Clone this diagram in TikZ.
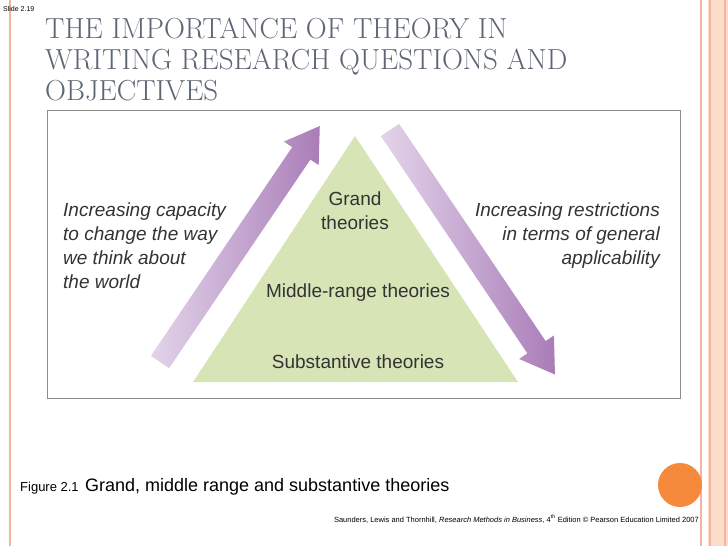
\documentclass[tikz,border=0pt]{standalone}
\usepackage{fontspec}
\setsansfont{Liberation Sans}
\usetikzlibrary{positioning}
\definecolor{titlegray}{HTML}{5E6674}
\definecolor{salmon}{HTML}{F4B49C}
\definecolor{peach}{HTML}{FCDCCB}
\definecolor{trigreen}{HTML}{D6E4B6}
\definecolor{purpdark}{HTML}{A97DB8}
\definecolor{purplight}{HTML}{E3D4EA}
\definecolor{orangedot}{HTML}{F58A3D}
\tikzset{
  lbl/.style={font=\sffamily\fontsize{19}{24}\selectfont, text=black!80, inner sep=0pt},
  sidelbl/.style={font=\sffamily\itshape\fontsize{19}{24}\selectfont, text=black!80, inner sep=0pt},
}
\begin{document}
\begin{tikzpicture}[x=1pt,y=-1pt]
  \useasboundingbox (0,0) rectangle (728,546);
  % slide frame
  \draw[salmon, line width=2pt] (10,0) -- (10,546);
  \draw[salmon, line width=1.5pt] (701,0) -- (701,546);
  \fill[peach] (708,0) rectangle (728,546);
  \draw[salmon, line width=1.5pt] (710,0) -- (710,546) (725,0) -- (725,546);
  \node[anchor=west, font=\sffamily\fontsize{7}{8}\selectfont, inner sep=0pt] (slide) at (3,9) {Slide 2.19};
  \node[anchor=north west, align=left, text=titlegray, font=\fontsize{29}{31}\selectfont, inner sep=0pt] (title) at (45,18)
    {THE IMPORTANCE OF THEORY IN\\WRITING RESEARCH QUESTIONS AND\\OBJECTIVES};
  % figure box
  \draw[black!45, line width=1pt] (47,110) rectangle (680,398);
  \fill[trigreen] (355,136) -- (518,382) -- (193,382) -- cycle;
  % arrows
  \begin{scope}[shift={(160,362)}, rotate=55.9]
    \shade[left color=purplight, right color=purpdark]
      (0,-11) -- (252,-11) -- (252,-21) -- (285,0) -- (252,21) -- (252,11) -- (0,11) -- cycle;
  \end{scope}
  \begin{scope}[shift={(390,130)}, rotate=-56]
    \shade[left color=purplight, right color=purpdark]
      (0,-11) -- (262,-11) -- (262,-21) -- (295,0) -- (262,21) -- (262,11) -- (0,11) -- cycle;
  \end{scope}
  % labels
  \node[lbl, align=center] (grand) at (355,211) {Grand\\theories};
  \node[lbl] (middle) at (358,293) {Middle-range theories};
  \node[lbl] (subst) at (358,362) {Substantive theories};
  \node[sidelbl, anchor=north west, align=left] (left) at (63,203)
    {Increasing capacity\\to change the way\\we think about\\the world};
  \node[sidelbl, anchor=north east, align=right] (right) at (660,203)
    {Increasing restrictions\\in terms of general\\applicability};
  % caption
  \node[anchor=base west, inner sep=0pt, font=\sffamily\fontsize{13}{14}\selectfont] (fig) at (20,491) {Figure 2.1};
  \node[inner sep=0pt, font=\sffamily\fontsize{18}{20}\selectfont, right=6pt of fig.base east, anchor=base west] (cap)
    {Grand, middle range and substantive theories};
  \fill[orangedot] (680,485) circle (22);
  \node[anchor=base east, inner sep=0pt, font=\sffamily\fontsize{7.5}{8}\selectfont] (cite) at (699,522)
    {Saunders, Lewis and Thornhill, \textit{Research Methods in Business}, 4\textsuperscript{th} Edition \copyright{} Pearson Education Limited 2007};
\end{tikzpicture}
\end{document}
